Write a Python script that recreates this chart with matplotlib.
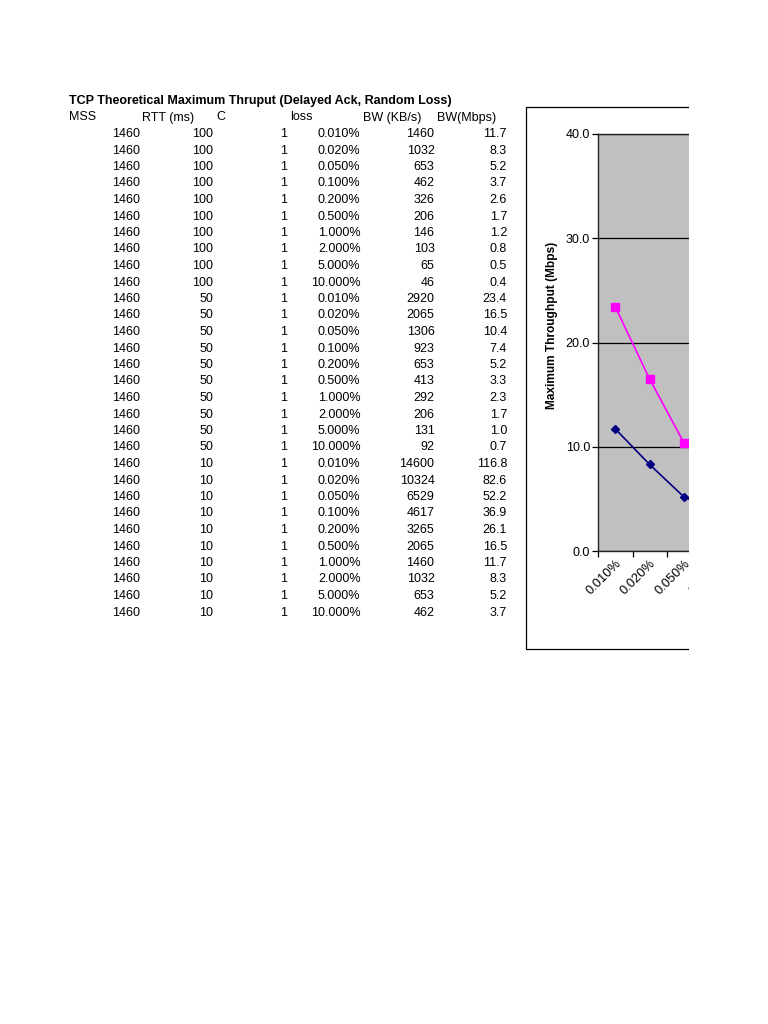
import matplotlib.pyplot as plt
from matplotlib.patches import Rectangle
from matplotlib.ticker import FixedLocator, FormatStrFormatter

# table data (spreadsheet cells)
title = "TCP Theoretical Maximum Thruput (Delayed Ack, Random Loss)"
headers = ["MSS", "RTT (ms)", "C", "loss", "BW (KB/s)", "BW(Mbps)"]
loss_labels = ["0.010%", "0.020%", "0.050%", "0.100%", "0.200%",
               "0.500%", "1.000%", "2.000%", "5.000%", "10.000%"]
mss = [1460] * 30
rtt = [100] * 10 + [50] * 10 + [10] * 10
c_val = [1] * 30
loss = loss_labels * 3
bw_kbs = [1460, 1032, 653, 462, 326, 206, 146, 103, 65, 46,
          2920, 2065, 1306, 923, 653, 413, 292, 206, 131, 92,
          14600, 10324, 6529, 4617, 3265, 2065, 1460, 1032, 653, 462]
bw_mbps = [11.7, 8.3, 5.2, 3.7, 2.6, 1.7, 1.2, 0.8, 0.5, 0.4,
           23.4, 16.5, 10.4, 7.4, 5.2, 3.3, 2.3, 1.7, 1.0, 0.7,
           116.8, 82.6, 52.2, 36.9, 26.1, 16.5, 11.7, 8.3, 5.2, 3.7]

# chart series: RTT 100 and RTT 50 in Mbps
series_100 = bw_mbps[0:10]
series_50 = bw_mbps[10:20]
y_ticks = [0, 10, 20, 30, 40]
n_visible_labels = 4  # the screenshot cuts the chart after the 4th category

W, H = 768, 1024
fig = plt.figure(figsize=(W / 100, H / 100), dpi=100)
plt.rcParams['font.family'] = ['Liberation Sans', 'DejaVu Sans']


def fx(x):
    return x / W


def fy(y):
    return 1 - y / H


# --- spreadsheet table ---
FS = 9
base0 = 104
step = 16.5
fig.text(fx(69), fy(base0), title, fontsize=FS, fontweight='bold',
         ha='left', va='baseline')

header_x = [69, 142, 216, 290, 363, 437]
for hx, h in zip(header_x, headers):
    fig.text(fx(hx), fy(base0 + step), h, fontsize=FS, ha='left', va='baseline')

col_right = [140, 213, 287, 360.5, 434.5, 507]
for i in range(30):
    yb = base0 + step * (i + 2)
    row = [str(mss[i]), str(rtt[i]), str(c_val[i]), loss[i],
           str(bw_kbs[i]), f"{bw_mbps[i]:.1f}"]
    for cx, s in zip(col_right, row):
        fig.text(fx(cx), fy(yb), s, fontsize=FS, ha='right', va='baseline')

# --- chart frame ---
frame = Rectangle((fx(525.7), fy(649)), fx(760) - fx(525.7), fy(107.3) - fy(649),
                  transform=fig.transFigure, facecolor='white', edgecolor='black',
                  linewidth=0.9, zorder=0)
fig.add_artist(frame)

# plot area (full width like the original, right part hidden later)
cat_w = 34.2
left, top, bottom = 598.3, 134, 551
ax = fig.add_axes([fx(left), fy(bottom), cat_w * 10 / W, (bottom - top) / H])
ax.set_facecolor('#C0C0C0')
ax.set_zorder(1)

x = list(range(len(loss_labels)))
ax.plot(x, series_100, color='#000080', linewidth=1.2, marker='D',
        markersize=4.5, markerfacecolor='#000080', markeredgecolor='#000080')
ax.plot(x, series_50, color='#FF00FF', linewidth=1.2, marker='s',
        markersize=6, markerfacecolor='#FF00FF', markeredgecolor='#FF00FF')

ax.set_xlim(-0.5, 9.5)
ax.set_ylim(0, 40)
ax.set_yticks(y_ticks)
ax.yaxis.set_major_formatter(FormatStrFormatter('%.1f'))
ax.yaxis.grid(True, color='black', linewidth=0.9)
ax.set_axisbelow(True)
ax.tick_params(axis='y', direction='out', length=4, width=0.9, pad=2,
               labelsize=9, colors='black')

ax.xaxis.set_major_locator(FixedLocator(x[:n_visible_labels]))
ax.set_xticklabels(loss_labels[:n_visible_labels], rotation=45, ha='right',
                   va='top', rotation_mode='anchor', fontsize=9.3)
ax.xaxis.set_minor_locator(FixedLocator([i - 0.5 for i in range(11)]))
ax.tick_params(axis='x', which='major', length=0, pad=5)
ax.tick_params(axis='x', which='minor', direction='out', length=4, width=0.9)

for side in ['left', 'bottom', 'top']:
    ax.spines[side].set_color('#222222')
    ax.spines[side].set_linewidth(1.0)
ax.spines['right'].set_visible(False)

ax.set_ylabel("Maximum Throughput (Mbps)", fontsize=8.6, fontweight='bold')
ax.yaxis.set_label_coords(-0.119, (bottom - 325) / (bottom - top))

# the screenshot is cut off at the right of the chart
cover = Rectangle((fx(688.5), 0), 1 - fx(688.5), 1, transform=fig.transFigure,
                  facecolor='white', edgecolor='none', zorder=10)
fig.add_artist(cover)

fig.savefig('out.png', dpi=100, facecolor='white')
